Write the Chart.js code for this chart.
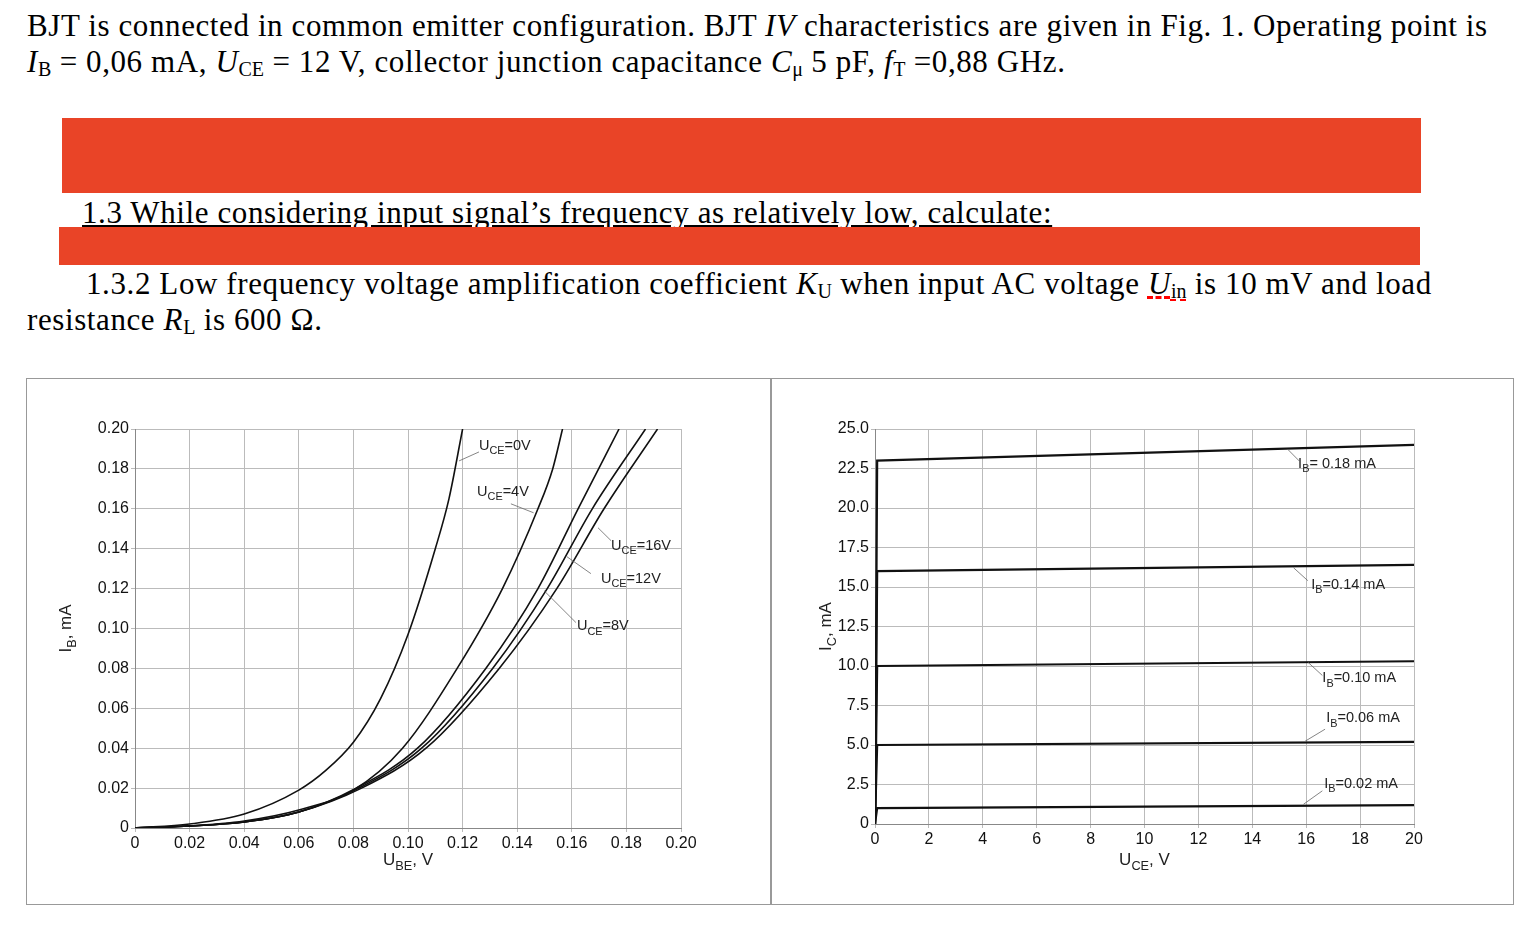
<!DOCTYPE html>
<html><head><meta charset="utf-8">
<script src="https://cdn.jsdelivr.net/npm/chart.js"></script>
<style>
body{margin:0;background:#fff;width:1536px;height:932px;position:relative;overflow:hidden;font-family:"Liberation Serif","Times New Roman",serif;color:#000}
.t{position:absolute;font-size:31px;letter-spacing:0.6px;white-space:nowrap;line-height:1}
.bar{position:absolute;background:#e94427}
.box{position:absolute;border:1px solid #999;top:378px;height:525px}
canvas{display:block}
sub{font-size:20px;vertical-align:-4px;letter-spacing:0}
</style></head><body>
<div class="t" style="left:27px;top:10px">BJT is connected in common emitter configuration. BJT <i>IV</i> characteristics are given in Fig. 1. Operating point is</div>
<div class="t" style="left:27px;top:46px"><i>I</i><sub>B</sub> = 0,06 mA, <i>U</i><sub>CE</sub> = 12 V, collector junction capacitance <i>C</i><sub>μ</sub> 5 pF, <i>f</i><sub>T</sub> =0,88 GHz.</div>
<div class="bar" style="left:62px;top:118px;width:1359px;height:75px"></div>
<div class="t" style="left:82px;top:197px;text-decoration:underline">1.3 While considering input signal’s frequency as relatively low, calculate:</div>
<div class="bar" style="left:59px;top:227px;width:1361px;height:38px"></div>
<div class="t" style="left:86px;top:268px">1.3.2 Low frequency voltage amplification coefficient <i>K</i><sub>U</sub> when input AC voltage <i style="text-decoration:underline dashed red">U</i><sub style="text-decoration:underline dashed red">in</sub> is 10 mV and load</div>
<div class="t" style="left:27px;top:304px">resistance <i>R</i><sub>L</sub> is 600 Ω.</div>
<div class="box" style="left:26px;width:744px"><canvas id="c1" width="744" height="525"></canvas></div>
<div class="box" style="left:770px;width:742px"><canvas id="c2" width="742" height="525"></canvas></div>
<script>
// Input characteristics (UBE V, IB mA)
const ube0 = [0,0.02,0.04,0.06,0.07,0.08,0.09,0.10,0.11,0.115,0.12];
const ib0  = [0,0.002,0.007,0.019,0.029,0.043,0.065,0.097,0.14,0.165,0.20];
const ube4 = [0,0.02,0.04,0.06,0.08,0.098,0.118,0.1346,0.1476,0.153,0.1566];
const ib4  = [0,0.001,0.0035,0.009,0.019,0.04,0.08,0.12,0.16,0.18,0.20];
const ube8 = [0,0.02,0.04,0.06,0.081,0.1035,0.1285,0.1476,0.1623,0.1773];
const ib8  = [0,0.001,0.003,0.008,0.02,0.04,0.08,0.12,0.16,0.20];
const ube12= [0,0.02,0.04,0.06,0.082,0.105,0.131,0.151,0.1675,0.187];
const ib12 = [0,0.001,0.003,0.008,0.02,0.04,0.08,0.12,0.16,0.20];
const ube16= [0,0.02,0.04,0.06,0.083,0.1066,0.1334,0.1545,0.1718,0.1914];
const ib16 = [0,0.001,0.003,0.008,0.02,0.04,0.08,0.12,0.16,0.20];
// Output characteristics (UCE V, IC mA)
const uce = [0,0.08,20];
const ic02 = [0,1.0,1.2];
const ic06 = [0,5.0,5.2];
const ic10 = [0,10.0,10.3];
const ic14 = [0,16.0,16.4];
const ic18 = [0,23.0,24.0];
const xTicks1 = [0,0.02,0.04,0.06,0.08,0.10,0.12,0.14,0.16,0.18,0.20];
const yTicks1 = [0,0.02,0.04,0.06,0.08,0.10,0.12,0.14,0.16,0.18,0.20];
const xTicks2 = [0,2,4,6,8,10,12,14,16,18,20];
const yTicks2 = [0,2.5,5,7.5,10,12.5,15,17.5,20,22.5,25];

const pts=(xs,ys)=>xs.map((x,i)=>({x,y:ys[i]}));
const ds=(xs,ys,mono)=>({data:pts(xs,ys),showLine:true,pointRadius:0,borderColor:'#111',borderWidth:mono?1.6:2.2,cubicInterpolationMode:mono?'monotone':'default',tension:0});
const F='"Liberation Sans", Arial, sans-serif';

function rich(ctx,x,y,parts,size,rot){
  ctx.save();ctx.translate(x,y);if(rot)ctx.rotate(rot);
  ctx.fillStyle='#222';ctx.textBaseline='alphabetic';
  let w=0;parts.forEach(p=>{ctx.font=(p[1]?size*0.75:size)+'px '+F;w+=ctx.measureText(p[0]).width;});
  let cx=rot? -w/2 : 0;
  parts.forEach(p=>{ctx.font=(p[1]?size*0.75:size)+'px '+F;ctx.fillText(p[0],cx,p[1]?size*0.3:0);cx+=ctx.measureText(p[0]).width;});
  ctx.restore();
}
function centered(ctx,x,y,parts,size,rot){
  let w=0;ctx.save();parts.forEach(p=>{ctx.font=(p[1]?size*0.75:size)+'px '+F;w+=ctx.measureText(p[0]).width;});ctx.restore();
  if(rot){rich(ctx,x,y,parts,size,rot);} else rich(ctx,x-w/2,y,parts,size,null);
}
function annPlugin(labels,titles){
  return {id:'ann',afterDatasetsDraw(ch){
    const c=ch.ctx,xs=ch.scales.x,ys=ch.scales.y;
    labels.forEach(l=>{
      c.save();c.strokeStyle='#666';c.lineWidth=0.8;c.beginPath();
      c.moveTo(xs.getPixelForValue(l.from[0]),ys.getPixelForValue(l.from[1]));
      c.lineTo(xs.getPixelForValue(l.to[0]),ys.getPixelForValue(l.to[1]));c.stroke();c.restore();
      rich(c,xs.getPixelForValue(l.at[0]),ys.getPixelForValue(l.at[1]),l.parts,14.5,null);
    });
    centered(c,(ch.chartArea.left+ch.chartArea.right)/2,titles.xy,titles.x,17,0);
    centered(c,titles.yx,(ch.chartArea.top+ch.chartArea.bottom)/2,titles.y,17,-Math.PI/2);
  }};
}
function opts(min,max,xt,yt,xmax,fmtX,fmtY,pad){
  return {responsive:false,animation:false,events:[],
    layout:{padding:{left:pad.left,right:pad.right,top:pad.top,bottom:pad.bottom}},
    plugins:{legend:{display:false},tooltip:{enabled:false}},
    scales:{
      x:{type:'linear',min:0,max:xmax,afterBuildTicks:a=>{a.ticks=xt.map(v=>({value:v}));},
        grid:{color:'#bbb',borderDash:[2,3],tickLength:4},border:{color:'#888'},
        ticks:{font:{family:F,size:16},color:'#111',callback:fmtX,maxRotation:0,padding:2},
        afterFit:s=>{s.height=pad.xh}},
      y:{type:'linear',min:min,max:max,afterBuildTicks:a=>{a.ticks=yt.map(v=>({value:v}));},
        grid:{color:'#bbb',borderDash:[2,3],tickLength:4},border:{color:'#888'},
        ticks:{font:{family:F,size:16},color:'#111',callback:fmtY,padding:2},
        afterFit:s=>{s.width=pad.yw}}
    }};
}
const p1={left:0,right:90,top:50,bottom:0,xh:76,yw:108};
new Chart(document.getElementById('c1'),{type:'scatter',
  data:{datasets:[ds(ube0,ib0,true),ds(ube4,ib4,true),ds(ube8,ib8,true),ds(ube12,ib12,true),ds(ube16,ib16,true)]},
  options:opts(0,0.2,xTicks1,yTicks1,0.2,v=>v===0?'0':v.toFixed(2),v=>v===0?'0':v.toFixed(2),p1),
  plugins:[annPlugin([
    {at:[0.126,0.1895],from:[0.1187,0.184],to:[0.126,0.1885],parts:[['U',0],['CE',1],['=0V',0]]},
    {at:[0.1253,0.1665],from:[0.1377,0.1625],to:[0.146,0.158],parts:[['U',0],['CE',1],['=4V',0]]},
    {at:[0.1744,0.1395],from:[0.1696,0.1505],to:[0.1744,0.144],parts:[['U',0],['CE',1],['=16V',0]]},
    {at:[0.1707,0.123],from:[0.1582,0.136],to:[0.167,0.1275],parts:[['U',0],['CE',1],['=12V',0]]},
    {at:[0.1619,0.099],from:[0.1498,0.119],to:[0.1615,0.103],parts:[['U',0],['CE',1],['=8V',0]]}
  ],{x:[['U',0],['BE',1],[', V',0]],xy:486,y:[['I',0],['B',1],[', mA',0]],yx:44})]
});
const p2={left:0,right:99,top:50,bottom:0,xh:80,yw:104};
new Chart(document.getElementById('c2'),{type:'scatter',
  data:{datasets:[ds(uce,ic02,false),ds(uce,ic06,false),ds(uce,ic10,false),ds(uce,ic14,false),ds(uce,ic18,false)]},
  options:opts(0,25,xTicks2,yTicks2,20,v=>String(v),v=>v===0?'0':v.toFixed(1),p2),
  plugins:[annPlugin([
    {at:[15.7,22.54],from:[15.3,23.74],to:[15.74,22.98],parts:[['I',0],['B',1],['= 0.18 mA',0]]},
    {at:[16.19,14.9],from:[15.53,16.22],to:[16.06,15.4],parts:[['I',0],['B',1],['=0.14 mA',0]]},
    {at:[16.6,8.96],from:[16.07,10.23],to:[16.6,9.4],parts:[['I',0],['B',1],['=0.10 mA',0]]},
    {at:[16.74,6.44],from:[15.96,5.24],to:[16.7,6.0],parts:[['I',0],['B',1],['=0.06 mA',0]]},
    {at:[16.67,2.27],from:[15.9,1.25],to:[16.6,2.1],parts:[['I',0],['B',1],['=0.02 mA',0]]}
  ],{x:[['U',0],['CE',1],[', V',0]],xy:486,y:[['I',0],['C',1],[', mA',0]],yx:60})]
});
</script>
</body></html>
